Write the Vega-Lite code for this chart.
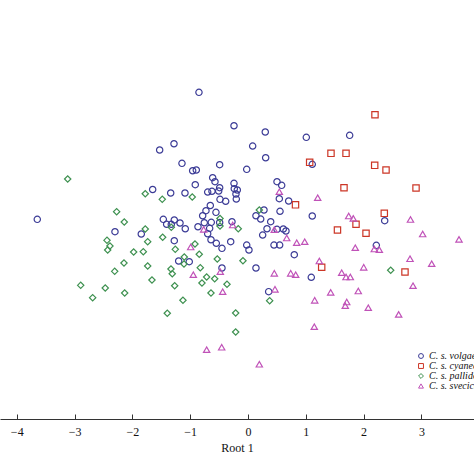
{
  "$schema": "https://vega.github.io/schema/vega-lite/v6.json",
  "width": 474,
  "height": 419,
  "autosize": {"type": "none"},
  "padding": {"left": 0, "top": 0, "right": 0, "bottom": 55},
  "data": {
    "values": [
      {"subspecies": "C. s. volgae", "root1": -0.848, "root2": 2.382},
      {"subspecies": "C. s. volgae", "root1": -0.242, "root2": 1.804},
      {"subspecies": "C. s. volgae", "root1": 0.299, "root2": 1.696},
      {"subspecies": "C. s. volgae", "root1": -1.280, "root2": 1.493},
      {"subspecies": "C. s. volgae", "root1": -1.528, "root2": 1.384},
      {"subspecies": "C. s. volgae", "root1": 0.081, "root2": 1.453},
      {"subspecies": "C. s. volgae", "root1": 0.306, "root2": 1.251},
      {"subspecies": "C. s. volgae", "root1": -1.142, "root2": 1.154},
      {"subspecies": "C. s. volgae", "root1": -0.490, "root2": 1.130},
      {"subspecies": "C. s. volgae", "root1": -0.957, "root2": 1.026},
      {"subspecies": "C. s. volgae", "root1": -0.894, "root2": 1.038},
      {"subspecies": "C. s. volgae", "root1": -0.022, "root2": 1.050},
      {"subspecies": "C. s. volgae", "root1": -0.611, "root2": 0.905},
      {"subspecies": "C. s. volgae", "root1": -0.571, "root2": 0.836},
      {"subspecies": "C. s. volgae", "root1": -0.242, "root2": 0.808},
      {"subspecies": "C. s. volgae", "root1": -0.912, "root2": 0.784},
      {"subspecies": "C. s. volgae", "root1": 0.502, "root2": 0.836},
      {"subspecies": "C. s. volgae", "root1": 0.583, "root2": 0.773},
      {"subspecies": "C. s. volgae", "root1": -0.490, "root2": 0.732},
      {"subspecies": "C. s. volgae", "root1": -0.507, "root2": 0.675},
      {"subspecies": "C. s. volgae", "root1": -0.237, "root2": 0.715},
      {"subspecies": "C. s. volgae", "root1": -0.185, "root2": 0.692},
      {"subspecies": "C. s. volgae", "root1": -1.649, "root2": 0.701},
      {"subspecies": "C. s. volgae", "root1": -1.337, "root2": 0.640},
      {"subspecies": "C. s. volgae", "root1": -1.090, "root2": 0.640},
      {"subspecies": "C. s. volgae", "root1": -0.697, "root2": 0.657},
      {"subspecies": "C. s. volgae", "root1": -0.623, "root2": 0.670},
      {"subspecies": "C. s. volgae", "root1": -0.208, "root2": 0.623},
      {"subspecies": "C. s. volgae", "root1": -0.202, "root2": 0.536},
      {"subspecies": "C. s. volgae", "root1": -0.484, "root2": 0.531},
      {"subspecies": "C. s. volgae", "root1": -0.386, "root2": 0.497},
      {"subspecies": "C. s. volgae", "root1": 0.542, "root2": 0.542},
      {"subspecies": "C. s. volgae", "root1": 0.704, "root2": 0.502},
      {"subspecies": "C. s. volgae", "root1": -0.652, "root2": 0.424},
      {"subspecies": "C. s. volgae", "root1": -3.645, "root2": 0.185},
      {"subspecies": "C. s. volgae", "root1": -2.301, "root2": -0.029},
      {"subspecies": "C. s. volgae", "root1": -1.846, "root2": -0.069},
      {"subspecies": "C. s. volgae", "root1": 1.009, "root2": 1.604},
      {"subspecies": "C. s. volgae", "root1": 1.759, "root2": 1.638},
      {"subspecies": "C. s. volgae", "root1": 1.112, "root2": 1.137},
      {"subspecies": "C. s. volgae", "root1": -0.727, "root2": 0.334},
      {"subspecies": "C. s. volgae", "root1": -0.784, "root2": 0.247},
      {"subspecies": "C. s. volgae", "root1": -0.554, "root2": 0.306},
      {"subspecies": "C. s. volgae", "root1": -0.490, "root2": 0.130},
      {"subspecies": "C. s. volgae", "root1": -0.635, "root2": 0.133},
      {"subspecies": "C. s. volgae", "root1": -0.277, "root2": 0.144},
      {"subspecies": "C. s. volgae", "root1": 0.277, "root2": 0.346},
      {"subspecies": "C. s. volgae", "root1": 0.138, "root2": 0.247},
      {"subspecies": "C. s. volgae", "root1": 0.220, "root2": 0.190},
      {"subspecies": "C. s. volgae", "root1": 0.393, "root2": 0.144},
      {"subspecies": "C. s. volgae", "root1": 0.554, "root2": 0.324},
      {"subspecies": "C. s. volgae", "root1": 0.329, "root2": 0.022},
      {"subspecies": "C. s. volgae", "root1": 0.502, "root2": 0.012},
      {"subspecies": "C. s. volgae", "root1": 0.611, "root2": 0.017},
      {"subspecies": "C. s. volgae", "root1": 0.254, "root2": -0.087},
      {"subspecies": "C. s. volgae", "root1": 0.450, "root2": -0.260},
      {"subspecies": "C. s. volgae", "root1": 0.548, "root2": -0.260},
      {"subspecies": "C. s. volgae", "root1": 0.801, "root2": -0.427},
      {"subspecies": "C. s. volgae", "root1": -1.465, "root2": 0.185},
      {"subspecies": "C. s. volgae", "root1": -1.407, "root2": 0.099},
      {"subspecies": "C. s. volgae", "root1": -1.327, "root2": 0.099},
      {"subspecies": "C. s. volgae", "root1": -1.275, "root2": 0.173},
      {"subspecies": "C. s. volgae", "root1": -1.176, "root2": 0.121},
      {"subspecies": "C. s. volgae", "root1": -1.085, "root2": 0.022},
      {"subspecies": "C. s. volgae", "root1": -0.865, "root2": 0.057},
      {"subspecies": "C. s. volgae", "root1": -0.663, "root2": 0.029},
      {"subspecies": "C. s. volgae", "root1": -0.697, "root2": -0.064},
      {"subspecies": "C. s. volgae", "root1": -1.275, "root2": -0.185},
      {"subspecies": "C. s. volgae", "root1": -0.640, "root2": -0.168},
      {"subspecies": "C. s. volgae", "root1": -0.548, "root2": -0.230},
      {"subspecies": "C. s. volgae", "root1": -0.450, "root2": -0.317},
      {"subspecies": "C. s. volgae", "root1": -0.299, "root2": -0.202},
      {"subspecies": "C. s. volgae", "root1": -0.022, "root2": -0.260},
      {"subspecies": "C. s. volgae", "root1": 0.017, "root2": -0.346},
      {"subspecies": "C. s. volgae", "root1": -1.199, "root2": -0.536},
      {"subspecies": "C. s. volgae", "root1": -1.016, "root2": -0.548},
      {"subspecies": "C. s. volgae", "root1": -0.450, "root2": -0.657},
      {"subspecies": "C. s. volgae", "root1": 0.138, "root2": -0.657},
      {"subspecies": "C. s. volgae", "root1": 0.358, "root2": -1.067},
      {"subspecies": "C. s. volgae", "root1": 1.112, "root2": 0.242},
      {"subspecies": "C. s. volgae", "root1": 2.365, "root2": 0.161},
      {"subspecies": "C. s. volgae", "root1": 2.220, "root2": -0.265},
      {"subspecies": "C. s. volgae", "root1": 1.095, "root2": -0.818},
      {"subspecies": "C. s. volgae", "root1": -0.756, "root2": 0.126},
      {"subspecies": "C. s. volgae", "root1": 0.657, "root2": -0.017},

      {"subspecies": "C. s. cyanecula", "root1": 2.197, "root2": 1.995},
      {"subspecies": "C. s. cyanecula", "root1": 1.436, "root2": 1.327},
      {"subspecies": "C. s. cyanecula", "root1": 1.696, "root2": 1.327},
      {"subspecies": "C. s. cyanecula", "root1": 1.067, "root2": 1.171},
      {"subspecies": "C. s. cyanecula", "root1": 2.192, "root2": 1.119},
      {"subspecies": "C. s. cyanecula", "root1": 2.388, "root2": 1.038},
      {"subspecies": "C. s. cyanecula", "root1": 1.661, "root2": 0.732},
      {"subspecies": "C. s. cyanecula", "root1": 2.907, "root2": 0.727},
      {"subspecies": "C. s. cyanecula", "root1": 0.822, "root2": 0.436},
      {"subspecies": "C. s. cyanecula", "root1": 2.358, "root2": 0.289},
      {"subspecies": "C. s. cyanecula", "root1": 1.869, "root2": 0.099},
      {"subspecies": "C. s. cyanecula", "root1": 1.548, "root2": 0.000},
      {"subspecies": "C. s. cyanecula", "root1": 2.042, "root2": -0.057},
      {"subspecies": "C. s. cyanecula", "root1": 1.275, "root2": -0.645},
      {"subspecies": "C. s. cyanecula", "root1": 2.716, "root2": -0.727},

      {"subspecies": "C. s. pallidogularis", "root1": -3.119, "root2": 0.882},
      {"subspecies": "C. s. pallidogularis", "root1": -1.777, "root2": 0.628},
      {"subspecies": "C. s. pallidogularis", "root1": -2.272, "root2": 0.317},
      {"subspecies": "C. s. pallidogularis", "root1": -2.140, "root2": 0.138},
      {"subspecies": "C. s. pallidogularis", "root1": -1.777, "root2": 0.017},
      {"subspecies": "C. s. pallidogularis", "root1": -2.439, "root2": -0.178},
      {"subspecies": "C. s. pallidogularis", "root1": -1.735, "root2": -0.202},
      {"subspecies": "C. s. pallidogularis", "root1": -2.388, "root2": -0.277},
      {"subspecies": "C. s. pallidogularis", "root1": -2.427, "root2": -0.346},
      {"subspecies": "C. s. pallidogularis", "root1": -1.978, "root2": -0.381},
      {"subspecies": "C. s. pallidogularis", "root1": -1.811, "root2": -0.375},
      {"subspecies": "C. s. pallidogularis", "root1": -2.145, "root2": -0.571},
      {"subspecies": "C. s. pallidogularis", "root1": -1.735, "root2": -0.623},
      {"subspecies": "C. s. pallidogularis", "root1": -2.306, "root2": -0.715},
      {"subspecies": "C. s. pallidogularis", "root1": -1.661, "root2": -0.865},
      {"subspecies": "C. s. pallidogularis", "root1": -2.894, "root2": -0.957},
      {"subspecies": "C. s. pallidogularis", "root1": -2.469, "root2": -1.003},
      {"subspecies": "C. s. pallidogularis", "root1": -2.133, "root2": -1.090},
      {"subspecies": "C. s. pallidogularis", "root1": -2.687, "root2": -1.171},
      {"subspecies": "C. s. pallidogularis", "root1": -1.483, "root2": 0.531},
      {"subspecies": "C. s. pallidogularis", "root1": -0.964, "root2": 0.571},
      {"subspecies": "C. s. pallidogularis", "root1": -0.484, "root2": 0.069},
      {"subspecies": "C. s. pallidogularis", "root1": -0.484, "root2": 0.199},
      {"subspecies": "C. s. pallidogularis", "root1": -0.168, "root2": 0.022},
      {"subspecies": "C. s. pallidogularis", "root1": 0.196, "root2": 0.346},
      {"subspecies": "C. s. pallidogularis", "root1": -1.476, "root2": -0.126},
      {"subspecies": "C. s. pallidogularis", "root1": -0.917, "root2": -0.242},
      {"subspecies": "C. s. pallidogularis", "root1": -1.258, "root2": -0.334},
      {"subspecies": "C. s. pallidogularis", "root1": -0.843, "root2": -0.420},
      {"subspecies": "C. s. pallidogularis", "root1": -1.102, "root2": -0.467},
      {"subspecies": "C. s. pallidogularis", "root1": -1.107, "root2": -0.588},
      {"subspecies": "C. s. pallidogularis", "root1": -0.531, "root2": -0.502},
      {"subspecies": "C. s. pallidogularis", "root1": -0.087, "root2": -0.531},
      {"subspecies": "C. s. pallidogularis", "root1": -1.332, "root2": -0.675},
      {"subspecies": "C. s. pallidogularis", "root1": -1.310, "root2": -0.756},
      {"subspecies": "C. s. pallidogularis", "root1": -0.825, "root2": -0.652},
      {"subspecies": "C. s. pallidogularis", "root1": -0.715, "root2": -0.813},
      {"subspecies": "C. s. pallidogularis", "root1": -0.576, "root2": -0.843},
      {"subspecies": "C. s. pallidogularis", "root1": -0.796, "root2": -0.917},
      {"subspecies": "C. s. pallidogularis", "root1": -1.268, "root2": -0.964},
      {"subspecies": "C. s. pallidogularis", "root1": -0.363, "root2": -0.939},
      {"subspecies": "C. s. pallidogularis", "root1": -0.640, "root2": -1.090},
      {"subspecies": "C. s. pallidogularis", "root1": -1.125, "root2": -1.216},
      {"subspecies": "C. s. pallidogularis", "root1": 0.375, "root2": -1.223},
      {"subspecies": "C. s. pallidogularis", "root1": -1.396, "root2": -1.441},
      {"subspecies": "C. s. pallidogularis", "root1": -0.213, "root2": -1.436},
      {"subspecies": "C. s. pallidogularis", "root1": -0.213, "root2": -1.765},
      {"subspecies": "C. s. pallidogularis", "root1": 2.469, "root2": -0.697},
      {"subspecies": "C. s. pallidogularis", "root1": -1.327, "root2": 0.047},

      {"subspecies": "C. s. svecica", "root1": 0.542, "root2": 0.663},
      {"subspecies": "C. s. svecica", "root1": -0.265, "root2": 0.087},
      {"subspecies": "C. s. svecica", "root1": -0.766, "root2": 0.012},
      {"subspecies": "C. s. svecica", "root1": 0.455, "root2": 0.005},
      {"subspecies": "C. s. svecica", "root1": 0.670, "root2": -0.138},
      {"subspecies": "C. s. svecica", "root1": 0.843, "root2": -0.220},
      {"subspecies": "C. s. svecica", "root1": -0.991, "root2": -0.294},
      {"subspecies": "C. s. svecica", "root1": -0.479, "root2": -0.721},
      {"subspecies": "C. s. svecica", "root1": -0.946, "root2": -0.773},
      {"subspecies": "C. s. svecica", "root1": 0.455, "root2": -0.749},
      {"subspecies": "C. s. svecica", "root1": 0.739, "root2": -0.749},
      {"subspecies": "C. s. svecica", "root1": 0.825, "root2": -0.773},
      {"subspecies": "C. s. svecica", "root1": -0.438, "root2": -1.067},
      {"subspecies": "C. s. svecica", "root1": 0.467, "root2": -1.026},
      {"subspecies": "C. s. svecica", "root1": -0.715, "root2": -2.071},
      {"subspecies": "C. s. svecica", "root1": -0.455, "root2": -2.029},
      {"subspecies": "C. s. svecica", "root1": 0.196, "root2": -2.323},
      {"subspecies": "C. s. svecica", "root1": 1.206, "root2": 0.559},
      {"subspecies": "C. s. svecica", "root1": 1.742, "root2": 0.242},
      {"subspecies": "C. s. svecica", "root1": 1.822, "root2": 0.202},
      {"subspecies": "C. s. svecica", "root1": 2.811, "root2": 0.182},
      {"subspecies": "C. s. svecica", "root1": 3.022, "root2": -0.069},
      {"subspecies": "C. s. svecica", "root1": 3.651, "root2": -0.161},
      {"subspecies": "C. s. svecica", "root1": 0.981, "root2": -0.202},
      {"subspecies": "C. s. svecica", "root1": 1.856, "root2": -0.306},
      {"subspecies": "C. s. svecica", "root1": 2.185, "root2": -0.329},
      {"subspecies": "C. s. svecica", "root1": 2.272, "root2": -0.341},
      {"subspecies": "C. s. svecica", "root1": 1.234, "root2": -0.536},
      {"subspecies": "C. s. svecica", "root1": 2.803, "root2": -0.497},
      {"subspecies": "C. s. svecica", "root1": 3.178, "root2": -0.583},
      {"subspecies": "C. s. svecica", "root1": 2.002, "root2": -0.645},
      {"subspecies": "C. s. svecica", "root1": 1.621, "root2": -0.739},
      {"subspecies": "C. s. svecica", "root1": 1.696, "root2": -0.813},
      {"subspecies": "C. s. svecica", "root1": 1.770, "root2": -0.813},
      {"subspecies": "C. s. svecica", "root1": 2.855, "root2": -0.963},
      {"subspecies": "C. s. svecica", "root1": 1.431, "root2": -1.078},
      {"subspecies": "C. s. svecica", "root1": 1.908, "root2": -1.055},
      {"subspecies": "C. s. svecica", "root1": 1.154, "root2": -1.216},
      {"subspecies": "C. s. svecica", "root1": 1.708, "root2": -1.246},
      {"subspecies": "C. s. svecica", "root1": 1.683, "root2": -1.310},
      {"subspecies": "C. s. svecica", "root1": 2.081, "root2": -1.344},
      {"subspecies": "C. s. svecica", "root1": 2.607, "root2": -1.460},
      {"subspecies": "C. s. svecica", "root1": 1.147, "root2": -1.673}
    ]
  },
  "mark": {"type": "point", "filled": false, "size": 40, "strokeWidth": 1.2, "opacity": 1},
  "encoding": {
    "x": {
      "field": "root1",
      "type": "quantitative",
      "title": "Root 1",
      "scale": {"domain": [-4.29, 3.91], "nice": false, "zero": false},
      "axis": {
        "values": [-4, -3, -2, -1, 0, 1, 2, 3],
        "format": "d",
        "tickSize": -5,
        "labelPadding": 12,
        "titlePadding": 5
      }
    },
    "y": {
      "field": "root2",
      "type": "quantitative",
      "scale": {"domain": [-3.27, 3.98], "nice": false, "zero": false},
      "axis": null
    },
    "color": {
      "field": "subspecies",
      "type": "nominal",
      "scale": {
        "domain": ["C. s. volgae", "C. s. cyanecula", "C. s. pallidogularis", "C. s. svecica"],
        "range": ["#3b3b96", "#cc3626", "#3e9150", "#c052b8"]
      },
      "legend": {
        "title": null,
        "orient": "none",
        "legendX": 416,
        "legendY": 351,
        "padding": 0,
        "rowPadding": 0,
        "symbolSize": 24,
        "symbolStrokeWidth": 1,
        "labelOffset": 3,
        "labelFont": "Liberation Serif",
        "labelFontSize": 10,
        "labelFontStyle": "italic",
        "labelColor": "#111111",
        "labelLimit": 0
      }
    },
    "shape": {
      "field": "subspecies",
      "type": "nominal",
      "scale": {
        "domain": ["C. s. volgae", "C. s. cyanecula", "C. s. pallidogularis", "C. s. svecica"],
        "range": ["circle", "square", "diamond", "triangle-up"]
      }
    }
  },
  "config": {
    "view": {"stroke": null},
    "axis": {
      "grid": false,
      "domainColor": "#333333",
      "tickColor": "#333333",
      "labelFont": "Liberation Serif",
      "labelFontSize": 12,
      "labelColor": "#111111",
      "titleFont": "Liberation Serif",
      "titleFontSize": 12,
      "titleFontWeight": "normal",
      "titleColor": "#111111"
    }
  }
}
